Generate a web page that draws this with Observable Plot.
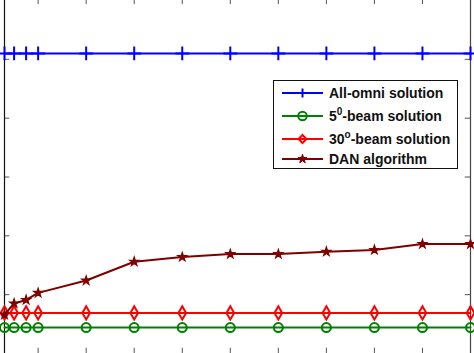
<!DOCTYPE html>
<html>
<head>
<meta charset="utf-8">
<script src="https://cdn.jsdelivr.net/npm/d3@7"></script>
<script src="https://cdn.jsdelivr.net/npm/@observablehq/plot@0.6"></script>
<style>
  html, body { margin: 0; padding: 0; background: #fff; }
  svg { display: block; }
</style>
</head>
<body>
<div id="chart"></div>
<script>
const xValues = [3, 5, 7.5, 10, 20, 30, 40, 50, 60, 70, 80, 90, 100];
const allOmni = [5.1, 5.1, 5.1, 5.1, 5.1, 5.1, 5.1, 5.1, 5.1, 5.1, 5.1, 5.1, 5.1];
const beam5 = [0.44, 0.44, 0.44, 0.44, 0.44, 0.44, 0.44, 0.44, 0.44, 0.44, 0.44, 0.44, 0.44];
const beam30 = [0.69, 0.69, 0.69, 0.69, 0.69, 0.69, 0.69, 0.69, 0.69, 0.69, 0.69, 0.69, 0.69];
const dan = [0.66, 0.85, 0.91, 1.03, 1.24, 1.56, 1.64, 1.69, 1.69, 1.73, 1.76, 1.86, 1.86];
const xTicks = [10, 20, 30, 40, 50, 60, 70, 80, 90, 100];
const yTicks = [1, 2, 3, 4, 5];
const seriesNames = ["All-omni solution", "5⁰-beam solution", "30°-beam solution", "DAN algorithm"];

const toRows = (vals) => xValues.map((x, i) => ({x, y: vals[i]}));
const omniRows = toRows(allOmni), b5Rows = toRows(beam5), b30Rows = toRows(beam30), danRows = toRows(dan);

const cBlue = "#0000ff", cGreen = "#008000", cRed = "#ff0000", cDan = "#800000";
const tickColor = "#555";

const plot = Plot.plot({
  width: 474,
  height: 353,
  marginTop: 0, marginBottom: 0, marginLeft: 4, marginRight: 4,
  x: {domain: [3, 100], axis: null},
  y: {domain: [0, 6], axis: null},
  style: {background: "#fff", overflow: "visible"},
  marks: [
    // inward ticks
    Plot.ruleX(xTicks, {y1: 0, y2: 0.09, stroke: tickColor, strokeWidth: 1}),
    Plot.ruleX(xTicks, {y1: 5.93, y2: 6, stroke: tickColor, strokeWidth: 1}),
    Plot.ruleY(yTicks, {x1: 3, x2: 4.1, stroke: tickColor, strokeWidth: 1}),
    Plot.ruleY(yTicks, {x1: 98.9, x2: 100, stroke: tickColor, strokeWidth: 1}),
    Plot.ruleX([3], {stroke: "#111", strokeWidth: 1.2}),
    Plot.ruleX([100], {stroke: "#444", strokeWidth: 1.2}),
    // series
    Plot.line(omniRows, {x: "x", y: "y", stroke: cBlue, strokeWidth: 2}),
    Plot.dot(omniRows, {x: "x", y: "y", symbol: "plus", r: 4.5, stroke: cBlue, strokeWidth: 2}),
    Plot.line(b5Rows, {x: "x", y: "y", stroke: cGreen, strokeWidth: 2}),
    Plot.dot(b5Rows, {x: "x", y: "y", symbol: "circle", r: 4.5, stroke: cGreen, strokeWidth: 2, fill: "none"}),
    Plot.line(b30Rows, {x: "x", y: "y", stroke: cRed, strokeWidth: 2}),
    Plot.dot(b30Rows, {x: "x", y: "y", symbol: "diamond", r: 4, stroke: cRed, strokeWidth: 2, fill: "none"}),
    Plot.line(danRows, {x: "x", y: "y", stroke: cDan, strokeWidth: 2}),
    Plot.dot(danRows, {x: "x", y: "y", symbol: "star", r: 2.8, fill: cDan, stroke: cDan, strokeWidth: 1.2})
  ]
});

document.getElementById("chart").appendChild(plot);

// Legend box inside the SVG
const svg = d3.select(plot);
const lg = svg.append("g")
  .attr("font-family", "Liberation Sans, Arial, sans-serif")
  .attr("font-weight", "bold").attr("font-size", 14).attr("text-anchor", "start");
lg.append("rect").attr("x", 273.5).attr("y", 80.5).attr("width", 184).attr("height", 88)
  .attr("fill", "#fff").attr("stroke", "#111").attr("stroke-width", 1);
const rowsY = [93, 116, 139, 159];
const colors = [cBlue, cGreen, cRed, cDan];
rowsY.forEach((ry, i) => {
  lg.append("line").attr("x1", 282).attr("x2", 323).attr("y1", ry).attr("y2", ry)
    .attr("stroke", colors[i]).attr("stroke-width", 2);
  const mx = 302.5;
  if (i === 0) {
    lg.append("line").attr("x1", mx).attr("x2", mx).attr("y1", ry - 4.5).attr("y2", ry + 4.5)
      .attr("stroke", cBlue).attr("stroke-width", 2);
  } else if (i === 1) {
    lg.append("circle").attr("cx", mx).attr("cy", ry).attr("r", 4.3)
      .attr("fill", "none").attr("stroke", cGreen).attr("stroke-width", 2);
  } else if (i === 2) {
    lg.append("path").attr("d", d3.symbol(d3.symbolDiamond2, 40)()).attr("transform", `translate(${mx},${ry})`)
      .attr("fill", "none").attr("stroke", cRed).attr("stroke-width", 2);
  } else {
    lg.append("path").attr("d", d3.symbol(d3.symbolStar, 25)()).attr("transform", `translate(${mx},${ry})`)
      .attr("fill", cDan).attr("stroke", cDan).attr("stroke-width", 1);
  }
  const t = lg.append("text").attr("x", 329).attr("y", ry + 5).attr("fill", "#111");
  if (i === 0) t.text(seriesNames[0]);
  else if (i === 1) {
    t.append("tspan").text("5");
    t.append("tspan").attr("font-size", 10).attr("dy", -6).text("0");
    t.append("tspan").attr("dy", 6).text("-beam solution");
  } else if (i === 2) {
    t.append("tspan").text("30");
    t.append("tspan").attr("font-size", 10).attr("dy", -6).text("o");
    t.append("tspan").attr("dy", 6).text("-beam solution");
  } else t.text(seriesNames[3]);
});
</script>
</body>
</html>
